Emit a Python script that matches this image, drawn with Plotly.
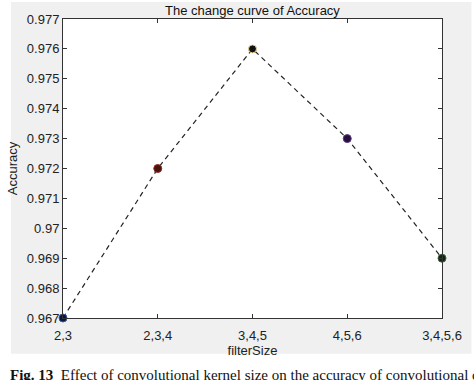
import plotly.graph_objects as go

categories = ["2,3", "2,3,4", "3,4,5", "4,5,6", "3,4,5,6"]
accuracy = [0.967, 0.972, 0.976, 0.973, 0.969]
marker_colors = ["#0b1640", "#4a120c", "#111111", "#24103a", "#10260f"]
marker_edges = ["#3a5a9a", "#8a3020", "#f3d58c", "#5a3a80", "#3a6a3a"]
ytick_vals = [0.967, 0.968, 0.969, 0.970, 0.971, 0.972, 0.973, 0.974, 0.975, 0.976, 0.977]
ytick_text = ["0.967", "0.968", "0.969", "0.97", "0.971", "0.972", "0.973", "0.974", "0.975", "0.976", "0.977"]

W, H = 474, 380
L, R, T, B = 58, 30, 17, 62
PW, PH = W - L - R, H - T - B


def px_x(x):
    return (x - L) / PW


def px_y(y):
    return (H - B - y) / PH


fig = go.Figure()
fig.add_trace(go.Scatter(
    x=categories, y=accuracy, mode="lines+markers",
    line=dict(color="#222222", width=1.2, dash="5px,4px"),
    marker=dict(size=8, color=marker_colors, line=dict(color=marker_edges, width=1)),
    cliponaxis=False, showlegend=False,
))

axis_font = dict(family="Liberation Sans, Arial, sans-serif", size=13, color="#222222")

fig.update_layout(
    width=W, height=H,
    margin=dict(l=L, r=R, t=T, b=B, pad=0),
    paper_bgcolor="white", plot_bgcolor="white",
    font=axis_font,
    xaxis=dict(
        type="category", range=[0, 4], showgrid=False, zeroline=False,
        showline=True, linecolor="#333333", linewidth=1, mirror="ticks",
        ticks="inside", ticklen=4, tickcolor="#333333", ticklabelstandoff=5,
        tickfont=axis_font, title=dict(text="filterSize", font=axis_font, standoff=2),
    ),
    yaxis=dict(
        range=[0.967, 0.977], tickvals=ytick_vals, ticktext=ytick_text,
        showgrid=False, zeroline=False,
        showline=True, linecolor="#333333", linewidth=1, mirror="ticks",
        ticks="inside", ticklen=4, tickcolor="#333333",
        tickfont=axis_font, title=dict(text="Accuracy", font=axis_font, standoff=6),
    ),
    shapes=[
        dict(type="rect", xref="paper", yref="paper",
             x0=px_x(5), x1=px_x(W), y0=px_y(354), y1=px_y(0),
             fillcolor="#f0f0f0", line=dict(width=0), layer="below"),
        dict(type="rect", xref="paper", yref="paper",
             x0=0, x1=1, y0=0, y1=1,
             fillcolor="white", line=dict(width=0), layer="below"),
    ],
    annotations=[
        dict(text="The change curve of Accuracy", xref="paper", yref="paper",
             x=0.5, y=1, yanchor="bottom", xanchor="center", yshift=-1, showarrow=False,
             font=dict(family="Liberation Sans, Arial, sans-serif", size=13, color="#111111")),
        dict(text="<b>Fig. 13</b>  Effect of convolutional kernel size on the accuracy of convolutional different",
             xref="paper", yref="paper", x=px_x(2), xanchor="left",
             y=px_y(365), yanchor="top", showarrow=False,
             font=dict(family="Liberation Serif, DejaVu Serif, serif", size=15, color="#111111")),
    ],
)

fig.write_html("out.html", config={"displayModeBar": False},
               post_script="document.body.style.margin='0';")
